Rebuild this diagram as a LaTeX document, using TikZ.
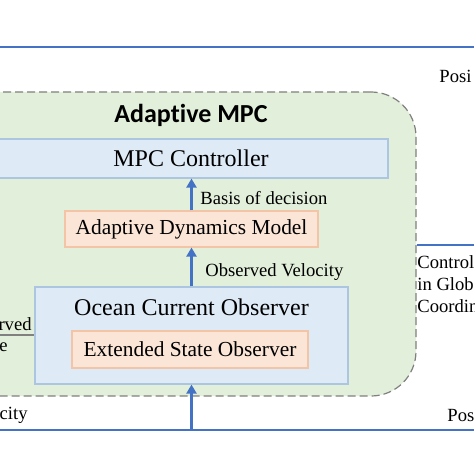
\documentclass[tikz,border=0pt]{standalone}
\usepackage{fontspec}
\setmainfont{Liberation Serif}
\newfontfamily\titlefont[Ligatures=NoCommon]{Carlito}
\usepackage{tikz}
\usetikzlibrary{arrows.meta}
\definecolor{linkblue}{RGB}{68,114,196}
\definecolor{ampgreen}{RGB}{226,239,218}
\definecolor{boxblue}{RGB}{222,235,247}
\definecolor{boxblueline}{RGB}{172,198,226}
\definecolor{boxorange}{RGB}{251,229,214}
\definecolor{boxorangeline}{RGB}{244,196,166}
\tikzset{
    blockblue/.style={rectangle, fill=boxblue, draw=boxblueline, line width=0.6pt,
    	inner sep=0pt, font=\fontsize{12}{14}\selectfont},
    blockorange/.style={rectangle, fill=boxorange, draw=boxorangeline, line width=0.6pt,
    	inner sep=0pt, font=\fontsize{10.7}{12}\selectfont},
    sigtext/.style={inner sep=0pt, font=\fontsize{9.3}{11}\selectfont}
}
\tikzset{
    flow/.style={draw=linkblue, line width=1.25pt},
    flowarrow/.style={draw=linkblue, line width=1.6pt,
    	-{Triangle[length=4.5pt,width=5pt]}}
}

\begin{document}
\begin{tikzpicture}[x=0.5pt,y=-0.5pt]
	\useasboundingbox (0,0) rectangle (474,474);
	\clip (0,0) rectangle (474,474);

	\node[rectangle, fill=ampgreen, draw=gray, line width=0.6pt,
		dash pattern=on 4pt off 2pt, rounded corners=22.5pt,
		minimum width=238pt, minimum height=152pt] (amp) at (178,244) {};
	\node[inner sep=0pt, font=\titlefont\bfseries\fontsize{13}{15}\selectfont]
		(amptitle) at (191,115) {Adaptive MPC};

	\node[blockblue, minimum width=197pt, minimum height=19.5pt] (mpc) at (191,158.5) {MPC Controller};
	\node[blockorange, minimum width=126.5pt, minimum height=18pt] (adm) at (191.5,229) {Adaptive Dynamics Model};
	\node[blockblue, minimum width=156.5pt, minimum height=48.5pt] (oco) at (191.5,335.5) {};
	\node[inner sep=0pt, font=\fontsize{12}{14}\selectfont] (ocotitle) at (191.5,307) {Ocean Current Observer};
	\node[blockorange, minimum width=118pt, minimum height=18.5pt] (eso) at (190,349.5) {Extended State Observer};

	\coordinate (topleft) at (0,47);
	\coordinate (topright) at (474,47);
	\coordinate (botleft) at (0,430);
	\coordinate (botright) at (474,430);
	\coordinate (ctrlend) at (474,245);
	\coordinate (obsend) at (0,335);

	\draw[flow] (topleft) edge (topright);
	\draw[flow] (botleft) edge (botright);
	\draw[flow] (amp.east |- ctrlend) edge (ctrlend);
	\draw[gray, line width=0.6pt] (obsend) edge (obsend -| oco.west);
	\draw (adm.north) edge[flowarrow] (adm.north |- mpc.south);
	\draw (oco.north) edge[flowarrow] (oco.north |- adm.south);
	\draw (oco.south |- botleft) edge[flowarrow] (oco.south);

	\node[sigtext, anchor=west] (basis) at (200,198) {Basis of decision};
	\node[sigtext, anchor=west] (obsvel) at (205,272) {Observed Velocity};
	\node[sigtext, anchor=west] (posup) at (439,76) {Posi};
	\node[sigtext, anchor=west] (posdown) at (447,415) {Pos};
	\node[sigtext, anchor=east] (velleft) at (28,415) {city};
	\node[sigtext, anchor=east] (obsleft) at (32,324) {rved};
	\node[sigtext, anchor=east] (eleft) at (8,347) {e};
	\node[sigtext, anchor=west, align=left, font=\fontsize{9.3}{11}\selectfont]
		(ctrlout) at (417,284) {Control\\in Glob\\Coordin};
\end{tikzpicture}
\end{document}
